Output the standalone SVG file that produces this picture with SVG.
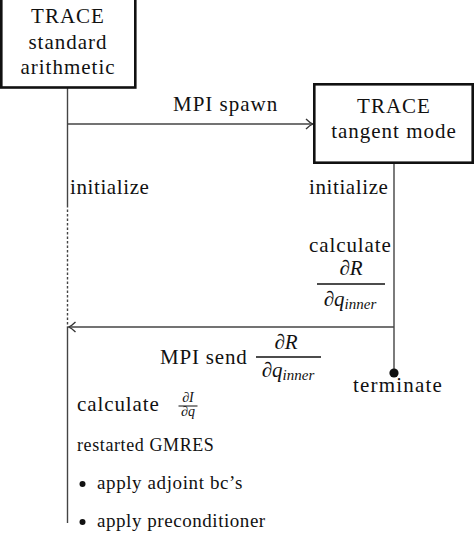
<svg xmlns="http://www.w3.org/2000/svg" width="474" height="536" viewBox="0 0 474 536">
<defs>
<marker id="arr" markerUnits="userSpaceOnUse" markerWidth="14" markerHeight="14" refX="0" refY="0" viewBox="-8 -7 10 14" orient="auto">
<path d="M-7,-5 Q-3,-1 0,0 Q-3,1 -7,5" fill="none" stroke="#333" stroke-width="1.3"/>
</marker>
</defs>
<rect width="474" height="536" fill="#fff"/>
<g id="connectors" stroke="#444" stroke-width="1.4" fill="none">
<line x1="67.5" y1="88" x2="67.5" y2="205"/>
<line x1="67.5" y1="205" x2="67.5" y2="327" stroke-dasharray="2.5,2"/>
<line x1="67.5" y1="327" x2="67.5" y2="523"/>
<line x1="67.5" y1="124" x2="313" y2="124" marker-end="url(#arr)"/>
<line x1="394" y1="163" x2="394" y2="374"/>
<line x1="394" y1="327" x2="68.5" y2="327" marker-end="url(#arr)"/>
<circle cx="394" cy="373" r="4.6" fill="#111" stroke="none"/>
</g>
<g id="node-standard">
<rect x="1.3" y="-2" width="134" height="89.5" fill="#fff" stroke="#111" stroke-width="2.6"/>
<text font-family="Liberation Serif" font-size="21" letter-spacing="1" fill="#111" x="68" y="23" text-anchor="middle">TRACE</text>
<text font-family="Liberation Serif" font-size="21" letter-spacing="1" fill="#111" x="68" y="49" text-anchor="middle">standard</text>
<text font-family="Liberation Serif" font-size="21" letter-spacing="1" fill="#111" x="68" y="74" text-anchor="middle">arithmetic</text>
</g>
<g id="node-tangent">
<rect x="314.3" y="84.3" width="158.4" height="78.4" fill="#fff" stroke="#111" stroke-width="2.6"/>
<text font-family="Liberation Serif" font-size="21" letter-spacing="1" fill="#111" x="394" y="113" text-anchor="middle">TRACE</text>
<text font-family="Liberation Serif" font-size="21" letter-spacing="1" fill="#111" x="394" y="138" text-anchor="middle">tangent mode</text>
</g>
<g id="labels">
<text font-family="Liberation Serif" font-size="21" letter-spacing="1" fill="#111" x="173" y="111">MPI spawn</text>
<text font-family="Liberation Serif" font-size="21" letter-spacing="0.6" fill="#111" x="70" y="194">initialize</text>
<text font-family="Liberation Serif" font-size="21" letter-spacing="0.6" fill="#111" x="309" y="194">initialize</text>
<text font-family="Liberation Serif" font-size="21" letter-spacing="0.9" fill="#111" x="309" y="252">calculate</text>
<text font-family="Liberation Serif" font-size="21" font-style="italic" fill="#111" x="351" y="275" text-anchor="middle">&#8706;R</text>
<line x1="317" y1="284" x2="385" y2="284" stroke="#111" stroke-width="1.3"/>
<text font-family="Liberation Serif" font-size="21" font-style="italic" fill="#111" x="350" y="306" text-anchor="middle">&#8706;q<tspan font-size="15" dy="3">inner</tspan></text>
<text font-family="Liberation Serif" font-size="21" letter-spacing="0.8" fill="#111" x="160" y="364">MPI send</text>
<text font-family="Liberation Serif" font-size="21" font-style="italic" fill="#111" x="286" y="349" text-anchor="middle">&#8706;R</text>
<line x1="256" y1="357" x2="321" y2="357" stroke="#111" stroke-width="1.3"/>
<text font-family="Liberation Serif" font-size="21" font-style="italic" fill="#111" x="288" y="377" text-anchor="middle">&#8706;q<tspan font-size="15" dy="3">inner</tspan></text>
<text font-family="Liberation Serif" font-size="21" letter-spacing="1.2" fill="#111" x="353" y="392">terminate</text>
<text font-family="Liberation Serif" font-size="21" letter-spacing="0.9" fill="#111" x="77" y="411">calculate</text>
<text font-family="Liberation Serif" font-size="14" font-style="italic" fill="#111" x="188" y="402" text-anchor="middle">&#8706;I</text>
<line x1="178.5" y1="406" x2="197.5" y2="406" stroke="#111" stroke-width="1"/>
<text font-family="Liberation Serif" font-size="14" font-style="italic" fill="#111" x="188" y="416" text-anchor="middle">&#8706;q</text>
<text font-family="Liberation Serif" font-size="18" letter-spacing="0.6" fill="#111" x="77" y="451">restarted GMRES</text>
<circle cx="82.5" cy="484" r="3" fill="#111"/>
<text font-family="Liberation Serif" font-size="19" letter-spacing="0.6" fill="#111" x="97" y="489">apply adjoint bc&#8217;s</text>
<circle cx="82.5" cy="522" r="3" fill="#111"/>
<text font-family="Liberation Serif" font-size="19" letter-spacing="0.55" fill="#111" x="97" y="527">apply preconditioner</text>
</g>
</svg>
